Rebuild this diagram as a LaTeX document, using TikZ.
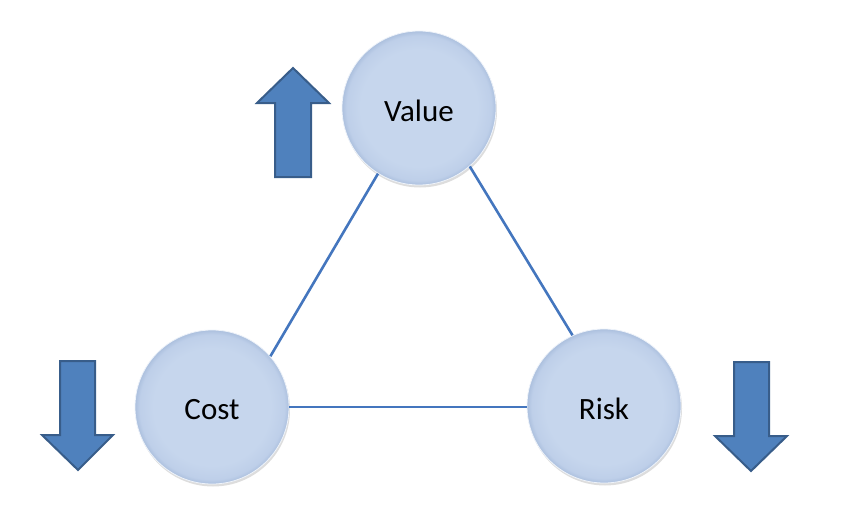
\documentclass[tikz,border=0pt]{standalone}
\usepackage{fontspec}
\setmainfont{Carlito}
\usetikzlibrary{shadows}
\definecolor{linecol}{RGB}{68,118,190}
\definecolor{arrfill}{RGB}{79,129,189}
\definecolor{arrline}{RGB}{56,93,138}
\definecolor{ballin}{RGB}{198,214,237}
\definecolor{ballmid}{RGB}{190,207,233}
\definecolor{ballout}{RGB}{172,192,222}
\pgfdeclareradialshading{ballshade}{\pgfpoint{0bp}{0bp}}{%
  color(0bp)=(ballin); color(19bp)=(ballin); color(23.5bp)=(ballmid);
  color(25bp)=(ballout); color(50bp)=(ballout)}
\newcommand{\balltxt}[1]{\raisebox{-2.5pt}[\height][\depth]{#1}}
\tikzset{
  ball/.style={circle, minimum size=154pt, inner sep=0pt,
    shading=ballshade,
    draw=white!70!ballin, line width=0.8pt,
    drop shadow={shadow xshift=1pt, shadow yshift=-2.5pt, opacity=0.22, fill=black!60},
    font=\fontsize{31}{34}\selectfont},
  link/.style={draw=linecol, line width=2.6pt},
  bigarrow/.style={fill=arrfill, draw=arrline, line width=2pt, line join=miter}
}
\begin{document}
\begin{tikzpicture}[x=1pt,y=-1pt]
\useasboundingbox (0,0) rectangle (865,519);
% balls
\node[ball] (value) at (419,108) {\balltxt{Value}};
\node[ball] (cost) at (212,407) {\balltxt{Cost}};
\node[ball] (risk) at (604,406) {\balltxt{Risk}};
% connectors
\draw[link] (value.238.6) -- (cost.41.3);
\draw[link] (value.311.8) -- (risk.114.5);
\draw[link] (cost.east) -- (cost.east -| risk.west);
% arrows
\draw[bigarrow] (275,177) -- (275,103) -- (257,103) -- (293,68) -- (329,103) -- (311,103) -- (311,177) -- cycle;
\draw[bigarrow] (60,361) -- (95,361) -- (95,435) -- (113,435) -- (78,470) -- (42,435) -- (60,435) -- cycle;
\draw[bigarrow] (734,362) -- (769,362) -- (769,436) -- (787,436) -- (751,471) -- (715,436) -- (734,436) -- cycle;
\end{tikzpicture}
\end{document}
